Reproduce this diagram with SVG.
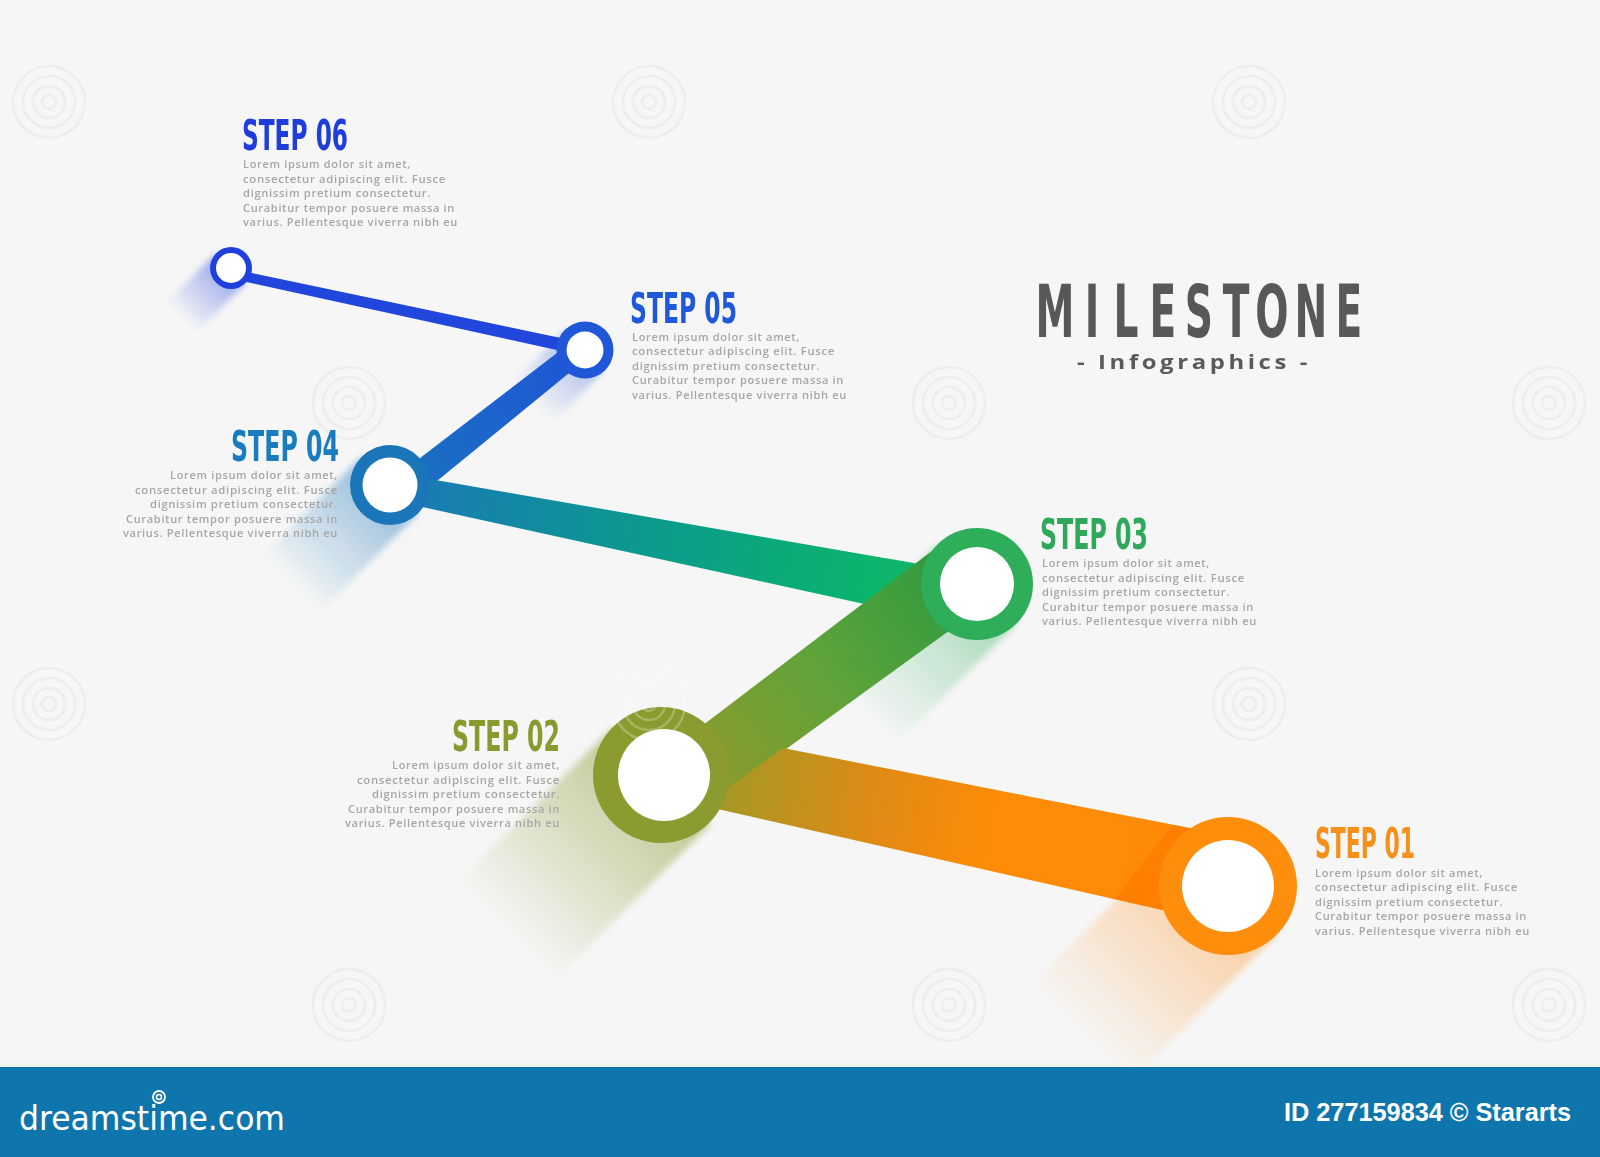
<svg xmlns="http://www.w3.org/2000/svg" width="1600" height="1157" viewBox="0 0 1600 1157">
<defs>
<style>
.title{font-family:"DejaVu Sans Condensed","DejaVu Sans",sans-serif;font-stretch:condensed;font-weight:bold;font-size:43px}
.body{font-family:"Open Sans","Liberation Sans",sans-serif;font-weight:600;font-size:10px;fill:#a6a6a6;letter-spacing:0.6px}
.inner{fill:#ffffff}
.wmb{fill:none;stroke:#ededed;stroke-width:2.5}
.wmt{fill:none;stroke:#ffffff;stroke-width:2.5;opacity:0.25}
</style>
<filter id="soft" x="-20%" y="-20%" width="140%" height="140%"><feGaussianBlur stdDeviation="3"/></filter>
<linearGradient id="sh1" x1="0" y1="0" x2="1" y2="0"><stop offset="0" stop-color="#ff9a30" stop-opacity="0.45"/><stop offset="1" stop-color="#ff9a30" stop-opacity="0"/></linearGradient>
<linearGradient id="sh2" x1="0" y1="0" x2="1" y2="0"><stop offset="0" stop-color="#8c9a30" stop-opacity="0.5"/><stop offset="1" stop-color="#8c9a30" stop-opacity="0"/></linearGradient>
<linearGradient id="sh3" x1="0" y1="0" x2="1" y2="0"><stop offset="0" stop-color="#2eae59" stop-opacity="0.4"/><stop offset="1" stop-color="#2eae59" stop-opacity="0"/></linearGradient>
<linearGradient id="sh4" x1="0" y1="0" x2="1" y2="0"><stop offset="0" stop-color="#1a76b9" stop-opacity="0.45"/><stop offset="1" stop-color="#1a76b9" stop-opacity="0"/></linearGradient>
<linearGradient id="sh5" x1="0" y1="0" x2="1" y2="0"><stop offset="0" stop-color="#2056d8" stop-opacity="0.35"/><stop offset="1" stop-color="#2056d8" stop-opacity="0"/></linearGradient>
<linearGradient id="sh6" x1="0" y1="0" x2="1" y2="0"><stop offset="0" stop-color="#2040dd" stop-opacity="0.45"/><stop offset="1" stop-color="#2040dd" stop-opacity="0"/></linearGradient>
<linearGradient id="g54" gradientUnits="userSpaceOnUse" x1="585" y1="350" x2="405" y2="478"><stop offset="0" stop-color="#1f55d8"/><stop offset="1" stop-color="#1a70c0"/></linearGradient>
<linearGradient id="g43" gradientUnits="userSpaceOnUse" x1="395" y1="487" x2="960" y2="598"><stop offset="0" stop-color="#1b78b8"/><stop offset="0.5" stop-color="#0a9e88"/><stop offset="0.85" stop-color="#0cb56b"/><stop offset="1" stop-color="#1db264"/></linearGradient>
<linearGradient id="g32" gradientUnits="userSpaceOnUse" x1="960" y1="575" x2="700" y2="770"><stop offset="0" stop-color="#2e9a3e"/><stop offset="0.5" stop-color="#5ea33a"/><stop offset="1" stop-color="#8c9a2c"/></linearGradient>
<linearGradient id="g21" gradientUnits="userSpaceOnUse" x1="700" y1="780" x2="1200" y2="870"><stop offset="0" stop-color="#9c9a28"/><stop offset="0.35" stop-color="#e08a14"/><stop offset="0.6" stop-color="#ff8c06"/><stop offset="1" stop-color="#ff8a05"/></linearGradient>
</defs>
<rect x="0" y="0" width="1600" height="1157" fill="#f6f6f6"/>
<g id="watermarks-under">
<g class="wmb"><circle cx="49" cy="102" r="36"/><circle cx="49" cy="102" r="26"/><circle cx="49" cy="102" r="16"/><circle cx="49" cy="102" r="7"/></g>
<g class="wmb"><circle cx="649" cy="102" r="36"/><circle cx="649" cy="102" r="26"/><circle cx="649" cy="102" r="16"/><circle cx="649" cy="102" r="7"/></g>
<g class="wmb"><circle cx="1249" cy="102" r="36"/><circle cx="1249" cy="102" r="26"/><circle cx="1249" cy="102" r="16"/><circle cx="1249" cy="102" r="7"/></g>
<g class="wmb"><circle cx="349" cy="403" r="36"/><circle cx="349" cy="403" r="26"/><circle cx="349" cy="403" r="16"/><circle cx="349" cy="403" r="7"/></g>
<g class="wmb"><circle cx="949" cy="403" r="36"/><circle cx="949" cy="403" r="26"/><circle cx="949" cy="403" r="16"/><circle cx="949" cy="403" r="7"/></g>
<g class="wmb"><circle cx="1549" cy="403" r="36"/><circle cx="1549" cy="403" r="26"/><circle cx="1549" cy="403" r="16"/><circle cx="1549" cy="403" r="7"/></g>
<g class="wmb"><circle cx="49" cy="704" r="36"/><circle cx="49" cy="704" r="26"/><circle cx="49" cy="704" r="16"/><circle cx="49" cy="704" r="7"/></g>
<g class="wmb"><circle cx="1249" cy="704" r="36"/><circle cx="1249" cy="704" r="26"/><circle cx="1249" cy="704" r="16"/><circle cx="1249" cy="704" r="7"/></g>
<g class="wmb"><circle cx="349" cy="1005" r="36"/><circle cx="349" cy="1005" r="26"/><circle cx="349" cy="1005" r="16"/><circle cx="349" cy="1005" r="7"/></g>
<g class="wmb"><circle cx="949" cy="1005" r="36"/><circle cx="949" cy="1005" r="26"/><circle cx="949" cy="1005" r="16"/><circle cx="949" cy="1005" r="7"/></g>
<g class="wmb"><circle cx="1549" cy="1005" r="36"/><circle cx="1549" cy="1005" r="26"/><circle cx="1549" cy="1005" r="16"/><circle cx="1549" cy="1005" r="7"/></g>
</g>
<g id="shadows" filter="url(#soft)">
<g transform="translate(1228,886) rotate(135)"><rect x="0" y="-69" width="210" height="138" fill="url(#sh1)"/></g>
<g transform="translate(661,775) rotate(135)"><rect x="0" y="-70" width="220" height="138" fill="url(#sh2)"/></g>
<g transform="translate(977,584) rotate(135)"><rect x="0" y="-56" width="170" height="112" fill="url(#sh3)"/></g>
<g transform="translate(390,485) rotate(135)"><rect x="0" y="-40" width="140" height="80" fill="url(#sh4)"/></g>
<g transform="translate(585,350) rotate(135)"><rect x="0" y="-28" width="75" height="56" fill="url(#sh5)"/></g>
<g transform="translate(231,268) rotate(135)"><rect x="0" y="-21" width="70" height="42" fill="url(#sh6)"/></g>
</g>
<g id="connectors">
<polygon id="c65" points="235,269.5 575,341 575,354 235,279.5" fill="#2146dc"/>
<polygon id="c54" points="570,343 585,360 426,490 411,465" fill="url(#g54)"/>
<polygon id="c43" points="395,473 965,572 955,624 395,501" fill="url(#g43)"/>
<polygon id="c32" points="945,541 975,612 720,797 690,735" fill="url(#g32)"/>
<polygon id="c21" points="783,748 1205,831 1180,914 700,805 718,795" fill="url(#g21)"/>
<polygon points="1172,825 1205,831 1180,914 1115,899" fill="#ff7d02" opacity="0.85"/>
</g>
<g id="step6">
<circle cx="231" cy="268" r="21" fill="#1f40dd"/><circle class="inner" cx="231" cy="268" r="15"/>
<text class="title" x="242" y="150" fill="#1e3ddb" textLength="106" lengthAdjust="spacingAndGlyphs">STEP 06</text>
<text class="body" x="243" y="168" textLength="168" lengthAdjust="spacingAndGlyphs">Lorem ipsum dolor sit amet,</text>
<text class="body" x="243" y="182.5" textLength="203" lengthAdjust="spacingAndGlyphs">consectetur adipiscing elit. Fusce</text>
<text class="body" x="243" y="197" textLength="188" lengthAdjust="spacingAndGlyphs">dignissim pretium consectetur.</text>
<text class="body" x="243" y="211.5" textLength="212" lengthAdjust="spacingAndGlyphs">Curabitur tempor posuere massa in</text>
<text class="body" x="243" y="226" textLength="215" lengthAdjust="spacingAndGlyphs">varius. Pellentesque viverra nibh eu</text>
</g>
<g id="step5">
<circle cx="585" cy="350" r="28.5" fill="#2056d8"/><circle class="inner" cx="585" cy="350" r="18.5"/>
<text class="title" x="630" y="322.5" fill="#1f58d8" textLength="107" lengthAdjust="spacingAndGlyphs">STEP 05</text>
<text class="body" x="632" y="340.5" textLength="168" lengthAdjust="spacingAndGlyphs">Lorem ipsum dolor sit amet,</text>
<text class="body" x="632" y="355" textLength="203" lengthAdjust="spacingAndGlyphs">consectetur adipiscing elit. Fusce</text>
<text class="body" x="632" y="369.5" textLength="188" lengthAdjust="spacingAndGlyphs">dignissim pretium consectetur.</text>
<text class="body" x="632" y="384" textLength="212" lengthAdjust="spacingAndGlyphs">Curabitur tempor posuere massa in</text>
<text class="body" x="632" y="398.5" textLength="215" lengthAdjust="spacingAndGlyphs">varius. Pellentesque viverra nibh eu</text>
</g>
<g id="step4">
<circle cx="390" cy="485" r="40" fill="#1a76b9"/><circle class="inner" cx="390" cy="485" r="27.5"/>
<text class="title" x="231" y="461" fill="#1a7cc0" textLength="108" lengthAdjust="spacingAndGlyphs">STEP 04</text>
<text class="body" x="170" y="479" textLength="168" lengthAdjust="spacingAndGlyphs">Lorem ipsum dolor sit amet,</text>
<text class="body" x="135" y="493.5" textLength="203" lengthAdjust="spacingAndGlyphs">consectetur adipiscing elit. Fusce</text>
<text class="body" x="150" y="508" textLength="188" lengthAdjust="spacingAndGlyphs">dignissim pretium consectetur.</text>
<text class="body" x="126" y="522.5" textLength="212" lengthAdjust="spacingAndGlyphs">Curabitur tempor posuere massa in</text>
<text class="body" x="123" y="537" textLength="215" lengthAdjust="spacingAndGlyphs">varius. Pellentesque viverra nibh eu</text>
</g>
<g id="step3">
<circle cx="977" cy="584" r="56" fill="#2eae59"/><circle class="inner" cx="977" cy="584" r="37"/>
<text class="title" x="1040" y="549" fill="#2fa85a" textLength="108" lengthAdjust="spacingAndGlyphs">STEP 03</text>
<text class="body" x="1042" y="567" textLength="168" lengthAdjust="spacingAndGlyphs">Lorem ipsum dolor sit amet,</text>
<text class="body" x="1042" y="581.5" textLength="203" lengthAdjust="spacingAndGlyphs">consectetur adipiscing elit. Fusce</text>
<text class="body" x="1042" y="596" textLength="188" lengthAdjust="spacingAndGlyphs">dignissim pretium consectetur.</text>
<text class="body" x="1042" y="610.5" textLength="212" lengthAdjust="spacingAndGlyphs">Curabitur tempor posuere massa in</text>
<text class="body" x="1042" y="625" textLength="215" lengthAdjust="spacingAndGlyphs">varius. Pellentesque viverra nibh eu</text>
</g>
<g id="step2">
<circle cx="661" cy="775" r="68" fill="#8c9b2f"/><circle class="inner" cx="664" cy="775" r="46"/>
<text class="title" x="452" y="751" fill="#8a9a2e" textLength="108" lengthAdjust="spacingAndGlyphs">STEP 02</text>
<text class="body" x="392" y="769" textLength="168" lengthAdjust="spacingAndGlyphs">Lorem ipsum dolor sit amet,</text>
<text class="body" x="357" y="783.5" textLength="203" lengthAdjust="spacingAndGlyphs">consectetur adipiscing elit. Fusce</text>
<text class="body" x="372" y="798" textLength="188" lengthAdjust="spacingAndGlyphs">dignissim pretium consectetur.</text>
<text class="body" x="348" y="812.5" textLength="212" lengthAdjust="spacingAndGlyphs">Curabitur tempor posuere massa in</text>
<text class="body" x="345" y="827" textLength="215" lengthAdjust="spacingAndGlyphs">varius. Pellentesque viverra nibh eu</text>
</g>
<g id="step1">
<circle cx="1228" cy="886" r="69" fill="#ff8e0c"/><circle class="inner" cx="1228" cy="886" r="46"/>
<text class="title" x="1315" y="858" fill="#f7901a" textLength="100" lengthAdjust="spacingAndGlyphs">STEP 01</text>
<text class="body" x="1315" y="876.7" textLength="168" lengthAdjust="spacingAndGlyphs">Lorem ipsum dolor sit amet,</text>
<text class="body" x="1315" y="891.3" textLength="203" lengthAdjust="spacingAndGlyphs">consectetur adipiscing elit. Fusce</text>
<text class="body" x="1315" y="905.8" textLength="188" lengthAdjust="spacingAndGlyphs">dignissim pretium consectetur.</text>
<text class="body" x="1315" y="920.3" textLength="212" lengthAdjust="spacingAndGlyphs">Curabitur tempor posuere massa in</text>
<text class="body" x="1315" y="934.8" textLength="215" lengthAdjust="spacingAndGlyphs">varius. Pellentesque viverra nibh eu</text>
</g>
<g id="heading">
<g transform="scale(0.64,1.08)">
<text x="1648.4 1706.3 1759.4 1817.2 1873.4 1931.3 1987.5 2048.4 2107.8" y="312.5" text-anchor="middle" font-family="DejaVu Sans Condensed, DejaVu Sans, sans-serif" font-weight="bold" font-size="68" fill="#585858">MILESTONE</text>
</g>
<text x="1077" y="369" font-family="Open Sans, Liberation Sans, sans-serif" font-weight="700" font-size="20" letter-spacing="3" fill="#5a5a5a" textLength="234" lengthAdjust="spacingAndGlyphs">- Infographics -</text>
</g>
<g id="watermarks-over">
<g class="wmt"><circle cx="649" cy="704" r="36"/><circle cx="649" cy="704" r="26"/><circle cx="649" cy="704" r="16"/><circle cx="649" cy="704" r="7"/></g>
</g>
<g id="footer">
<rect x="0" y="1067" width="1600" height="90" fill="#0f76ad"/>
<text x="19" y="1130" font-family="DejaVu Sans, sans-serif" font-size="33" fill="#ffffff" textLength="266" lengthAdjust="spacingAndGlyphs">dreamstime.com</text>
<circle cx="159" cy="1097" r="6" fill="none" stroke="#ffffff" stroke-width="1.8"/>
<circle cx="159" cy="1097" r="2.5" fill="none" stroke="#ffffff" stroke-width="1.5"/>
<text x="1284" y="1121" font-family="Liberation Sans, Arial, sans-serif" font-weight="bold" font-size="25" fill="#ffffff" textLength="287" lengthAdjust="spacingAndGlyphs">ID 277159834 © Stararts</text>
</g>
</svg>
